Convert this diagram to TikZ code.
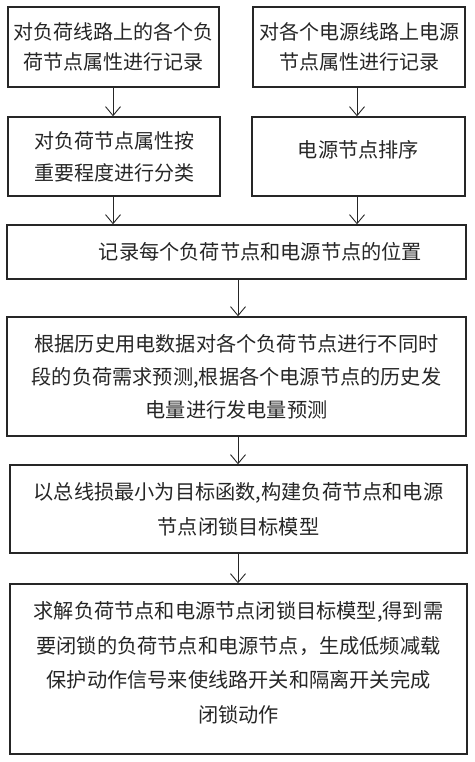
\documentclass[tikz,border=0pt]{standalone}
\usepackage{fontspec}
\newfontfamily\cjk{Noto Sans CJK SC}
\usetikzlibrary{arrows.meta}
\begin{document}
\begin{tikzpicture}[x=1pt,y=-1pt,
  box/.style={draw=black!85,line width=1.4pt,align=center,inner sep=0pt,
    font=\cjk\fontsize{20.2}{33}\selectfont,text=black!85},
  arr/.style={draw=black!85,line width=0.9pt,-{Straight Barb[length=9pt,width=15pt,line width=0.9pt]}}]
\useasboundingbox (0,0) rectangle (474,762);
\node[box,minimum width=211pt,minimum height=80pt,font=\cjk\fontsize{20}{30}\selectfont] (b1) at (113.5,47)
  {对负荷线路上的各个负\\荷节点属性进行记录};
\node[box,minimum width=212pt,minimum height=80pt,font=\cjk\fontsize{20}{30}\selectfont] (b2) at (359,47)
  {对各个电源线路上电源\\节点属性进行记录};
\node[box,minimum width=212pt,minimum height=79pt,font=\cjk\fontsize{20}{32}\selectfont] (b3) at (114,156.5)
  {对负荷节点属性按\\重要程度进行分类};
\node[box,minimum width=213pt,minimum height=79pt] (b4) at (358.5,156.5)
  {\raisebox{16pt}{电源节点排序}};
\node[box,minimum width=459pt,minimum height=54pt] (b5) at (236.5,252)
  {\hspace*{48pt}记录每个负荷节点和电源节点的位置};
\node[box,minimum width=459pt,minimum height=119pt] (b6) at (236.5,376.5)
  {根据历史用电数据对各个负荷节点进行不同时\\段的负荷需求预测,根据各个电源节点的历史发\\电量进行发电量预测};
\node[box,minimum width=457pt,minimum height=88pt,font=\cjk\fontsize{20.2}{35}\selectfont] (b7) at (238.5,509)
  {以总线损最小为目标函数,构建负荷节点和电源\\节点闭锁目标模型};
\node[box,minimum width=457pt,minimum height=170pt,font=\cjk\fontsize{20.2}{34.5}\selectfont] (b8) at (238.5,669)
  {求解负荷节点和电源节点闭锁目标模型,得到需\\要闭锁的负荷节点和电源节点，生成低频减载\\保护动作信号来使线路开关和隔离开关完成\\闭锁动作\\[-20pt]};
\draw[arr] (b1.south -| 113,0) -- (b3.north -| 113,0);
\draw[arr] (b2.south -| 357,0) -- (b4.north -| 357,0);
\draw[arr] (b3.south -| 113,0) -- (b5.north -| 113,0);
\draw[arr] (b4.south -| 357,0) -- (b5.north -| 357,0);
\draw[arr] (b5.south -| 238,0) -- (b6.north -| 238,0);
\draw[arr] (b6.south -| 238,0) -- (b7.north -| 238,0);
\draw[arr] (b7.south -| 238,0) -- (b8.north -| 238,0);
\end{tikzpicture}
\end{document}
